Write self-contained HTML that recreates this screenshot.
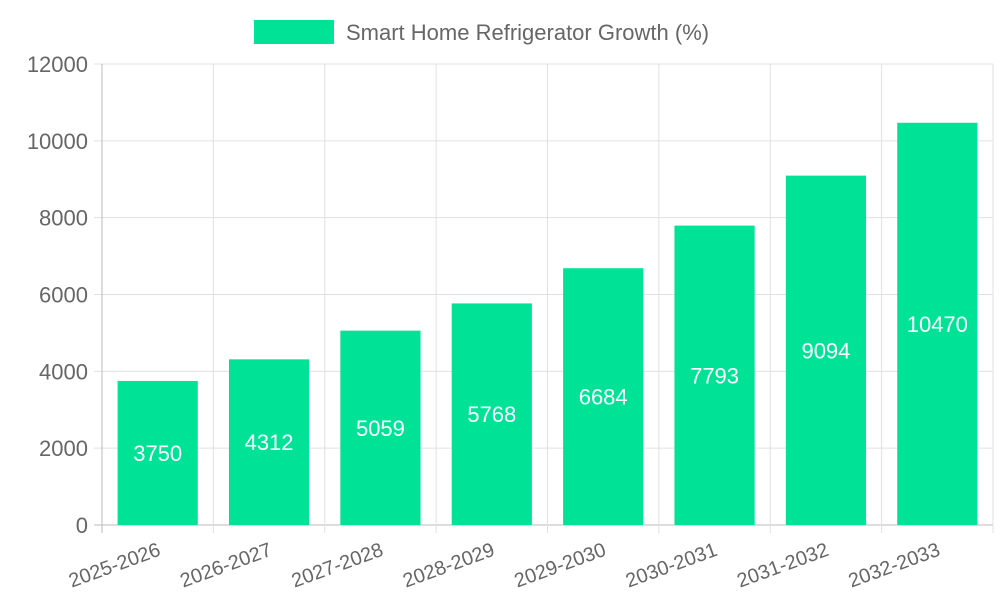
<!DOCTYPE html>
<html><head><meta charset="utf-8"><style>
body{margin:0;background:#fff;width:1000px;height:600px;overflow:hidden}
svg text{font-family:"Liberation Sans",sans-serif}
</style></head><body>
<svg id="chart" width="1000" height="600" xmlns="http://www.w3.org/2000/svg">
<g>
<rect x="254" y="20" width="80" height="24" fill="#00e396"/>
<text x="346" y="40" font-size="22" fill="#666">Smart Home Refrigerator Growth (%)</text>
</g>
<g id="grid"></g><g id="bars"></g><g id="axes"></g>
</svg>
<script>
const categories=["2025-2026","2026-2027","2027-2028","2028-2029","2029-2030","2030-2031","2031-2032","2032-2033"];
const values=[3750,4312,5059,5768,6684,7793,9094,10470];
const yTicks=[0,2000,4000,6000,8000,10000,12000];
const L=102,R=993,T=64,B=525,yMax=12000;
const NS="http://www.w3.org/2000/svg";
const band=(R-L)/categories.length;
const y=v=>B-(v/yMax)*(B-T);
const x=i=>L+i*band;
function mk(tag,attrs,parent,txt){const e=document.createElementNS(NS,tag);for(const k in attrs)e.setAttribute(k,attrs[k]);if(txt!==undefined)e.textContent=txt;parent.appendChild(e);return e;}
const grid=document.getElementById('grid'),bars=document.getElementById('bars'),axes=document.getElementById('axes');
yTicks.forEach(t=>{
 const l=mk('line',{x1:L-8,x2:R,y1:y(t),y2:y(t),stroke:t===0?'#bbb':'#e0e0e0','stroke-width':1},grid);
 
 
 const tx=mk('text',{x:L-14,y:y(t)+8,'text-anchor':'end','font-size':22,fill:'#666'},axes,String(t));
 
 
});
for(let i=0;i<=categories.length;i++){
 const l=mk('line',{x1:x(i),x2:x(i),y1:T,y2:B+8,stroke:i===0?'#bbb':'#e0e0e0','stroke-width':1},grid);
 
 
}
categories.forEach((c,i)=>{
 const bw=band*0.72,bx=x(i)+(band-bw)/2,v=values[i];
 const r=mk('rect',{x:bx,y:y(v),width:bw,height:B-y(v),fill:'#00e396'},bars);
 
 
 const lt=mk('text',{x:bx+bw/2,y:(y(v)+B)/2+8,'text-anchor':'middle','font-size':22,fill:'#fff'},bars,String(v));
 
 
 const cx=x(i)+band/2;
 const xt=mk('text',{x:cx+4,y:B+30,'text-anchor':'end','font-size':20,fill:'#666',transform:`rotate(-20 ${cx+4} ${B+30})`},axes,c);
 
 
});
</script>
</body></html>
